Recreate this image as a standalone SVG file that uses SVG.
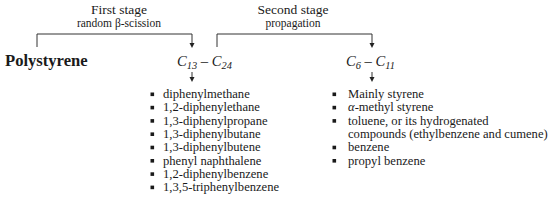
<svg xmlns="http://www.w3.org/2000/svg" width="550" height="200" viewBox="0 0 550 200">
<style>
text{font-family:"Liberation Serif","Times New Roman",serif;fill:#1a1a1a}
.h{font-size:13.5px;text-anchor:middle}
.s{font-size:11.5px;text-anchor:middle}
.b{font-size:16.6px;font-weight:bold}
.c{font-size:14.6px;font-style:italic}
.sub{font-size:10.4px}
.li{font-size:12.6px}
.ln{fill:none;stroke:#333;stroke-width:1}
.ah{fill:#222}
.bul{fill:#1a1a1a}
</style>
<defs>
<rect id="sq" width="3.6" height="3.6" class="bul"/>
</defs>
<rect width="550" height="200" fill="#fff"/>
<g id="connectors">
<path class="ln" d="M37,47 V34 H192 V43"/>
<path class="ah" d="M189.5,43 L194.5,43 L192,48 Z"/>
<path class="ln" d="M217,47 V34 H372 V43"/>
<path class="ah" d="M369.5,43 L374.5,43 L372,48 Z"/>
<path class="ln" d="M192,72 V77"/>
<path class="ah" d="M189.5,77 L194.5,77 L192,82 Z"/>
<path class="ln" d="M372,72 V77"/>
<path class="ah" d="M369.5,77 L374.5,77 L372,82 Z"/>
</g>
<g id="stage1">
<text class="h" x="119" y="14">First stage</text>
<text class="s" x="119" y="27">random β-scission</text>
</g>
<g id="stage2">
<text class="h" x="293" y="14">Second stage</text>
<text class="s" x="293" y="27">propagation</text>
</g>
<g id="polystyrene">
<text class="b" x="5" y="66">Polystyrene</text>
</g>
<g id="c13c24">
<text class="c" x="177" y="66">C<tspan class="sub" dy="3">13</tspan><tspan dy="-3"> – C</tspan><tspan class="sub" dy="3">24</tspan></text>
</g>
<g id="c6c11">
<text class="c" x="346" y="66">C<tspan class="sub" dy="3">6</tspan><tspan dy="-3"> – C</tspan><tspan class="sub" dy="3">11</tspan></text>
</g>
<g id="list1">
<use href="#sq" x="150.5" y="92.5"/>
<use href="#sq" x="150.5" y="105.8"/>
<use href="#sq" x="150.5" y="119.1"/>
<use href="#sq" x="150.5" y="132.4"/>
<use href="#sq" x="150.5" y="145.7"/>
<use href="#sq" x="150.5" y="159"/>
<use href="#sq" x="150.5" y="172.3"/>
<use href="#sq" x="150.5" y="185.6"/>
<text class="li" x="163" y="98">diphenylmethane</text>
<text class="li" x="163" y="111.3">1,2-diphenylethane</text>
<text class="li" x="163" y="124.6">1,3-diphenylpropane</text>
<text class="li" x="163" y="137.9">1,3-diphenylbutane</text>
<text class="li" x="163" y="151.2">1,3-diphenylbutene</text>
<text class="li" x="163" y="164.5">phenyl naphthalene</text>
<text class="li" x="163" y="177.8">1,2-diphenylbenzene</text>
<text class="li" x="163" y="191.1">1,3,5-triphenylbenzene</text>
</g>
<g id="list2">
<use href="#sq" x="332.5" y="92.5"/>
<use href="#sq" x="332.5" y="105.8"/>
<use href="#sq" x="332.5" y="119.1"/>
<use href="#sq" x="332.5" y="145.7"/>
<use href="#sq" x="332.5" y="159"/>
<text class="li" x="348" y="98">Mainly styrene</text>
<text class="li" x="348" y="111.3"><tspan font-style="italic">α</tspan>-methyl styrene</text>
<text class="li" x="348" y="124.6">toluene, or its hydrogenated</text>
<text class="li" x="348" y="137.9">compounds (ethylbenzene and cumene)</text>
<text class="li" x="348" y="151.2">benzene</text>
<text class="li" x="348" y="164.5">propyl benzene</text>
</g>
</svg>
